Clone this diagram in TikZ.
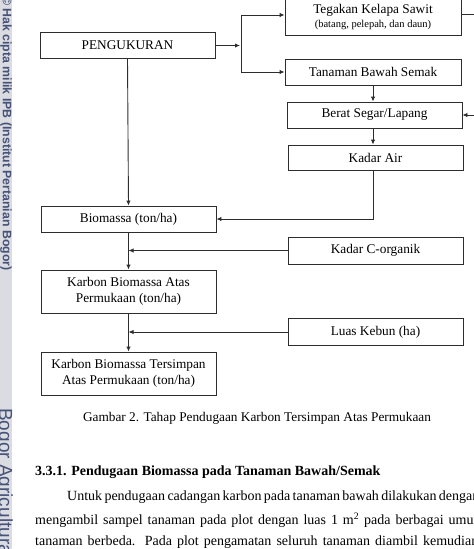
\documentclass[tikz,border=0pt]{standalone}
\usepackage{fontspec}
\setmainfont{Liberation Serif}
\newfontfamily\sidefont{Liberation Sans}
\usetikzlibrary{arrows.meta}
\definecolor{boxgray}{RGB}{45,45,45}
\definecolor{sidegray}{RGB}{218,220,226}
\definecolor{sidetext}{RGB}{70,82,120}
\begin{document}
\begin{tikzpicture}[x=1pt,y=-1pt,
  box/.style={draw=boxgray, line width=0.9pt, minimum width=175pt, minimum height=26pt,
    inner sep=0pt, font=\fontsize{13.3}{15.5}\selectfont, align=center, text=black},
  tall/.style={box, minimum height=43pt},
  conn/.style={draw=boxgray, line width=0.9pt, -{Latex[length=5pt,width=4.5pt]}},
  plain/.style={draw=boxgray, line width=0.9pt},
  sidelbl/.style={text=sidetext, rotate=-90, anchor=west, inner sep=0pt},
  bodyline/.style={anchor=west, inner sep=0pt, font=\fontsize{14}{16}\selectfont}]
\useasboundingbox (0,0) rectangle (474,549);
\clip (0,0) rectangle (474,549);
% sidebar
\fill[sidegray] (0,0) rectangle (11.5,549);
\node[sidelbl, font=\sidefont\bfseries\fontsize{12.3}{13}\selectfont] (side1) at (6,-4) {© Hak cipta milik IPB (Institut Pertanian Bogor)};
\node[sidelbl, font=\sidefont\fontsize{19}{20}\selectfont] (side2) at (4,408) {Bogor Agricultural University};
% boxes
\node[box] (peng) at (127.5,45.5) {PENGUKURAN};
\node[box, minimum width=176pt, minimum height=45pt] (teg) at (373,12.5) {};
\node[align=center, inner sep=0pt, font=\fontsize{13.3}{15.5}\selectfont] (tegtxt) at (373,17) {Tegakan Kelapa Sawit\\[-1.5pt]{\fontsize{10.5}{12}\selectfont (batang, pelepah, dan daun)}};
\node[box, minimum width=176pt] (tan) at (373,72) {Tanaman Bawah Semak};
\node[box] (berat) at (374.5,115) {Berat Segar/Lapang};
\node[box, minimum height=25pt] (kadar) at (375.5,157.5) {Kadar Air};
\node[box] (bio) at (128.5,219) {Biomassa (ton/ha)};
\node[box, minimum height=27pt] (kadc) at (375.5,250.5) {Kadar C-organik};
\node[tall] (kba) at (128.5,291.5) {Karbon Biomassa Atas\\Permukaan (ton/ha)};
\node[box, minimum height=27pt] (luas) at (375.5,332) {Luas Kebun (ha)};
\node[tall] (kbt) at (128.5,373.5) {Karbon Biomassa Tersimpan\\Atas Permukaan (ton/ha)};
% connectors
\coordinate (jm) at (240,45.5);
\coordinate (jt) at (241,15);
\coordinate (jb) at (241,72);
\coordinate (re1) at (474,14);
\coordinate (re2) at (474,115);
\draw[conn] (peng.east) -- (jm);
\draw[conn] (jb) -- (jt) -- (teg.west |- jt);
\draw[conn] (jb) -- (tan.west);
\draw[plain] (teg.east |- re1) -- (re1);
\draw[conn] (re2) -- (berat.east);
\draw[conn] (tan.south) -- (tan.south |- berat.north);
\draw[conn] (tan.south |- berat.south) -- (tan.south |- kadar.north);
\draw[conn] (tan.south |- kadar.south) |- (bio.east);
\draw[conn] (peng.south) -- (bio.north);
\draw[conn] (bio.south) -- (kba.north);
\draw[conn] (kadc.west) -- (bio.south |- kadc.west);
\draw[conn] (kba.south) -- (kbt.north);
\draw[conn] (luas.west) -- (kba.south |- luas.west);
% caption and text
\node[inner sep=0pt, font=\fontsize{13.3}{15}\selectfont] (cap) at (257,418) {Gambar 2. Tahap Pendugaan Karbon Tersimpan Atas Permukaan};
\node[bodyline, font=\bfseries\fontsize{14}{16}\selectfont] (head) at (35,472) {3.3.1. Pendugaan Biomassa pada Tanaman Bawah/Semak};
\node[bodyline] (l1) at (67,497) {\makebox[411pt][s]{Untuk pendugaan cadangan karbon pada tanaman bawah dilakukan dengan}};
\node[bodyline] (l2) at (35,520) {\makebox[443pt][s]{mengambil sampel tanaman pada plot dengan luas 1 m\textsuperscript{2} pada berbagai umur}};
\node[bodyline] (l3) at (35,542) {\makebox[443pt][s]{tanaman berbeda. Pada plot pengamatan seluruh tanaman diambil kemudian}};
\end{tikzpicture}
\end{document}
